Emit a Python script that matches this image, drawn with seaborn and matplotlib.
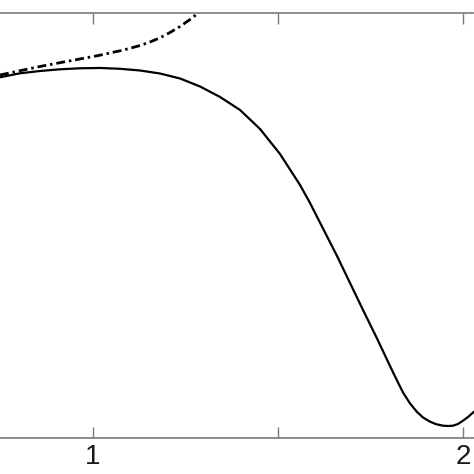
import matplotlib
matplotlib.use("Agg")
import matplotlib.pyplot as plt
import seaborn as sns
import pandas as pd

# Solid curve
solid_x = [0.7486, 0.8027, 0.8568, 0.9108, 0.9649, 1.0189, 1.0730, 1.1270, 1.1811,
           1.2351, 1.2892, 1.3432, 1.3973, 1.4514, 1.5054, 1.5595, 1.5865, 1.6216,
           1.6595, 1.6946, 1.7297, 1.7676, 1.8027, 1.8216, 1.8378, 1.8568, 1.8757,
           1.8919, 1.9108, 1.9270, 1.9459, 1.9595, 1.9730, 1.9865, 2.0000, 2.0135,
           2.0297]
solid_y = [0.8487, 0.8581, 0.8635, 0.8675, 0.8699, 0.8706, 0.8687, 0.8647, 0.8576,
           0.8459, 0.8271, 0.8024, 0.7718, 0.7271, 0.6682, 0.5953, 0.5529, 0.4929,
           0.4282, 0.3647, 0.3012, 0.2341, 0.1694, 0.1353, 0.1071, 0.0812, 0.0612,
           0.0482, 0.0384, 0.0325, 0.0289, 0.0282, 0.0289, 0.0329, 0.0407, 0.0494,
           0.0619]

# Dash-dot curve
dash_x = [0.7486, 0.8027, 0.8568, 0.9108, 0.9649, 1.0189, 1.0730, 1.1000, 1.1270,
          1.1541, 1.1811, 1.2081, 1.2351, 1.2622, 1.2811, 1.3027]
dash_y = [0.8541, 0.8642, 0.8741, 0.8831, 0.8918, 0.9007, 0.9111, 0.9169, 0.9235,
          0.9318, 0.9416, 0.9541, 0.9682, 0.9847, 0.9976, 1.0141]

xticks = [1.0, 1.5, 2.0]
xticklabels = ["1", "", "2"]

sns.set_style("white")
plt.rcParams['font.family'] = ['Liberation Sans', 'DejaVu Sans']

fig = plt.figure(figsize=(4.74, 4.74), dpi=100)
ax = fig.add_axes([0.0, 0.076, 1.0, 0.8966])

df_s = pd.DataFrame({"x": solid_x, "y": solid_y})
df_d = pd.DataFrame({"x": dash_x, "y": dash_y})

sns.lineplot(data=df_s, x="x", y="y", ax=ax, color="black", linewidth=1.6,
             estimator=None, sort=False)
sns.lineplot(data=df_d, x="x", y="y", ax=ax, color="black", linewidth=2.0,
             estimator=None, sort=False)
ax.lines[-1].set_dashes((3.2, 1.4, 0.9, 1.4))
for ln in ax.lines:
    ln.set_solid_joinstyle("round")
    ln.set_solid_capstyle("round")

ax.set_xlim(0.7486, 2.0297)
ax.set_ylim(0.0, 1.0)
ax.set_xticks(xticks)
ax.set_xticklabels(xticklabels)
ax.set_yticks([])
ax.set_xlabel("")
ax.set_ylabel("")

for side in ["left", "right"]:
    ax.spines[side].set_visible(False)
for side in ["top", "bottom"]:
    ax.spines[side].set_color("#7a7a7a")
    ax.spines[side].set_linewidth(1.2)

ax.tick_params(axis="x", direction="in", length=8, width=1.0, color="#7a7a7a",
               top=True, bottom=True, labelsize=20, pad=4, labelcolor="#1a1a1a")

fig.savefig("out.png", dpi=100)
